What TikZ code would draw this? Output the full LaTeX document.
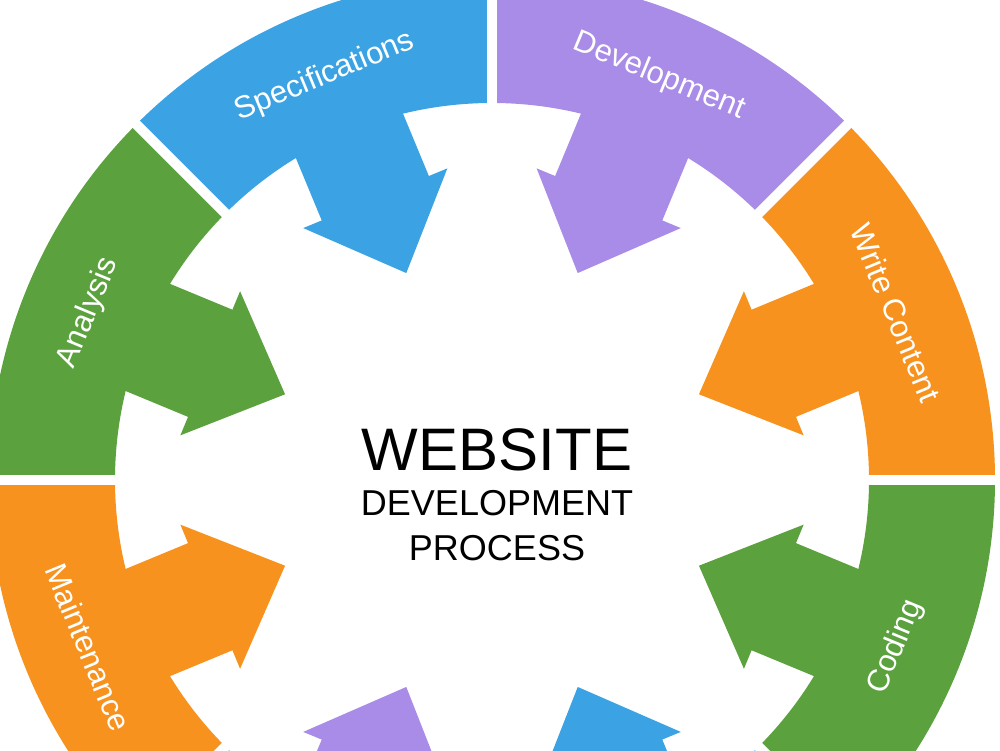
\documentclass[tikz,border=0pt]{standalone}
\usepackage{fontspec}
\setmainfont{Liberation Sans}
\begin{document}
\begin{tikzpicture}[x=1pt,y=1pt,
  lab/.style={text=white,font=\fontsize{31}{31}\selectfont,inner sep=0pt},
  gap/.style={white,line width=10pt}]
\definecolor{cb}{HTML}{3BA3E3}
\definecolor{cp}{HTML}{A98BE8}
\definecolor{co}{HTML}{F7921E}
\definecolor{cg}{HTML}{5BA13E}
\useasboundingbox (0,0) rectangle (1000,750);
\clip (0,0) rectangle (1000,750);
\fill[white] (0,0) rectangle (1000,750);
\begin{scope}[shift={(492,270)}]
\foreach \a/\col/\txt/\r in {112.5/cb/Specifications/22.5, 67.5/cp/Development/-22.5, 22.5/co/Write Content/-67.5, -22.5/cg/Coding/67.5, -67.5/cb/{}/0, -112.5/cp/{}/0, 202.5/co/Maintenance/-67.5, 157.5/cg/Analysis/67.5}{
  \fill[\col] (\a-22.5:503) arc[start angle=\a-22.5,end angle=\a+22.5,radius=503]
     -- (\a+22.5:377) arc[start angle=\a+22.5,end angle=\a-22.5,radius=377] -- cycle;
  \begin{scope}[rotate=\a]
    \fill[\col] (400,58) -- (305,58) -- (305,78) -- (224,0) -- (305,-78) -- (305,-58) -- (400,-58) -- cycle;
  \end{scope}
  \node[lab,rotate=\r] (l\a) at (\a:437) {\txt};
}
\foreach \b in {0,45,...,315}{\draw[gap] (0,0) -- (\b:530);}
\node[font=\fontsize{60}{60}\selectfont,inner sep=0pt] (w) at (5,30) {WEBSITE};
\node[font=\fontsize{36}{36}\selectfont,inner sep=0pt] (d) at (5,-23) {DEVELOPMENT};
\node[font=\fontsize{36}{36}\selectfont,inner sep=0pt] (p) at (5,-68) {PROCESS};
\end{scope}
\end{tikzpicture}
\end{document}
